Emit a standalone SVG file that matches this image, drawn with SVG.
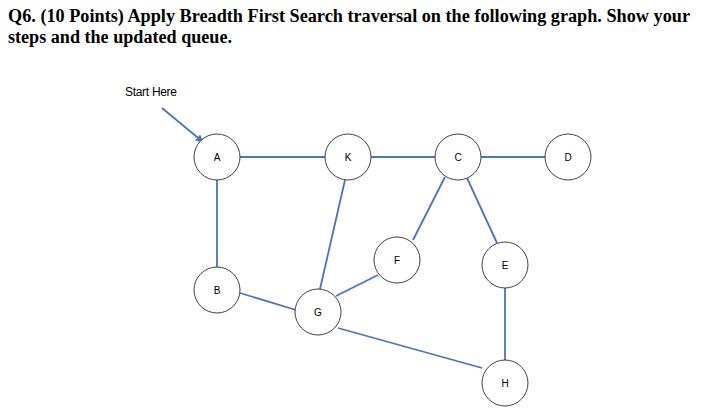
<svg xmlns="http://www.w3.org/2000/svg" width="722" height="418" viewBox="0 0 722 418">
<style>
.t{font-family:"Liberation Serif",serif;font-weight:bold;font-size:18px;fill:#000}
.n circle{fill:#fff;stroke:#404040;stroke-width:1}
.n text{font-family:"Liberation Sans",sans-serif;font-size:10px;text-anchor:middle;fill:#000}
.e line{stroke:#4a74bf;stroke-width:1.8}
</style>
<defs><marker id="ar" markerWidth="8" markerHeight="8" refX="7" refY="4" orient="auto" markerUnits="userSpaceOnUse"><path d="M0,0 L8,4 L0,8 z" fill="#4a74bf"/></marker></defs>
<rect width="722" height="418" fill="#fff"/>
<text class="t" x="8" y="22" textLength="682" lengthAdjust="spacingAndGlyphs">Q6. (10 Points) Apply Breadth First Search traversal on the following graph. Show your</text>
<text class="t" x="8" y="43" textLength="224" lengthAdjust="spacingAndGlyphs">steps and the updated queue.</text>
<text x="125" y="96" font-family="Liberation Sans Narrow,Liberation Sans,sans-serif" font-size="12" textLength="52">Start Here</text>
<g class="e">
<line x1="162" y1="108" x2="203" y2="142" marker-end="url(#ar)"/>
<line x1="240" y1="157" x2="325" y2="157"/>
<line x1="371" y1="157" x2="435" y2="157"/>
<line x1="481" y1="157" x2="545" y2="157"/>
<line x1="217" y1="180" x2="217" y2="267"/>
<line x1="345" y1="180" x2="320" y2="289"/>
<line x1="445" y1="177" x2="413" y2="240"/>
<line x1="467" y1="178" x2="497" y2="243"/>
<line x1="505" y1="288" x2="505" y2="360"/>
<line x1="240" y1="293" x2="296" y2="310"/>
<line x1="336" y1="296" x2="378" y2="275"/>
<line x1="338" y1="328" x2="482" y2="368"/>
</g>
<g id="A" class="n"><circle cx="217" cy="157" r="23"/><text x="217" y="161">A</text></g>
<g id="K" class="n"><circle cx="348" cy="157" r="23"/><text x="348" y="161">K</text></g>
<g id="C" class="n"><circle cx="458" cy="157" r="23"/><text x="458" y="161">C</text></g>
<g id="D" class="n"><circle cx="568" cy="157" r="23"/><text x="568" y="161">D</text></g>
<g id="F" class="n"><circle cx="397" cy="260" r="23"/><text x="397" y="264">F</text></g>
<g id="E" class="n"><circle cx="505" cy="265" r="23"/><text x="505" y="269">E</text></g>
<g id="B" class="n"><circle cx="217" cy="290" r="23"/><text x="217" y="294">B</text></g>
<g id="G" class="n"><circle cx="318" cy="312" r="23"/><text x="318" y="316">G</text></g>
<g id="H" class="n"><circle cx="505" cy="383" r="23"/><text x="505" y="387">H</text></g>
</svg>
